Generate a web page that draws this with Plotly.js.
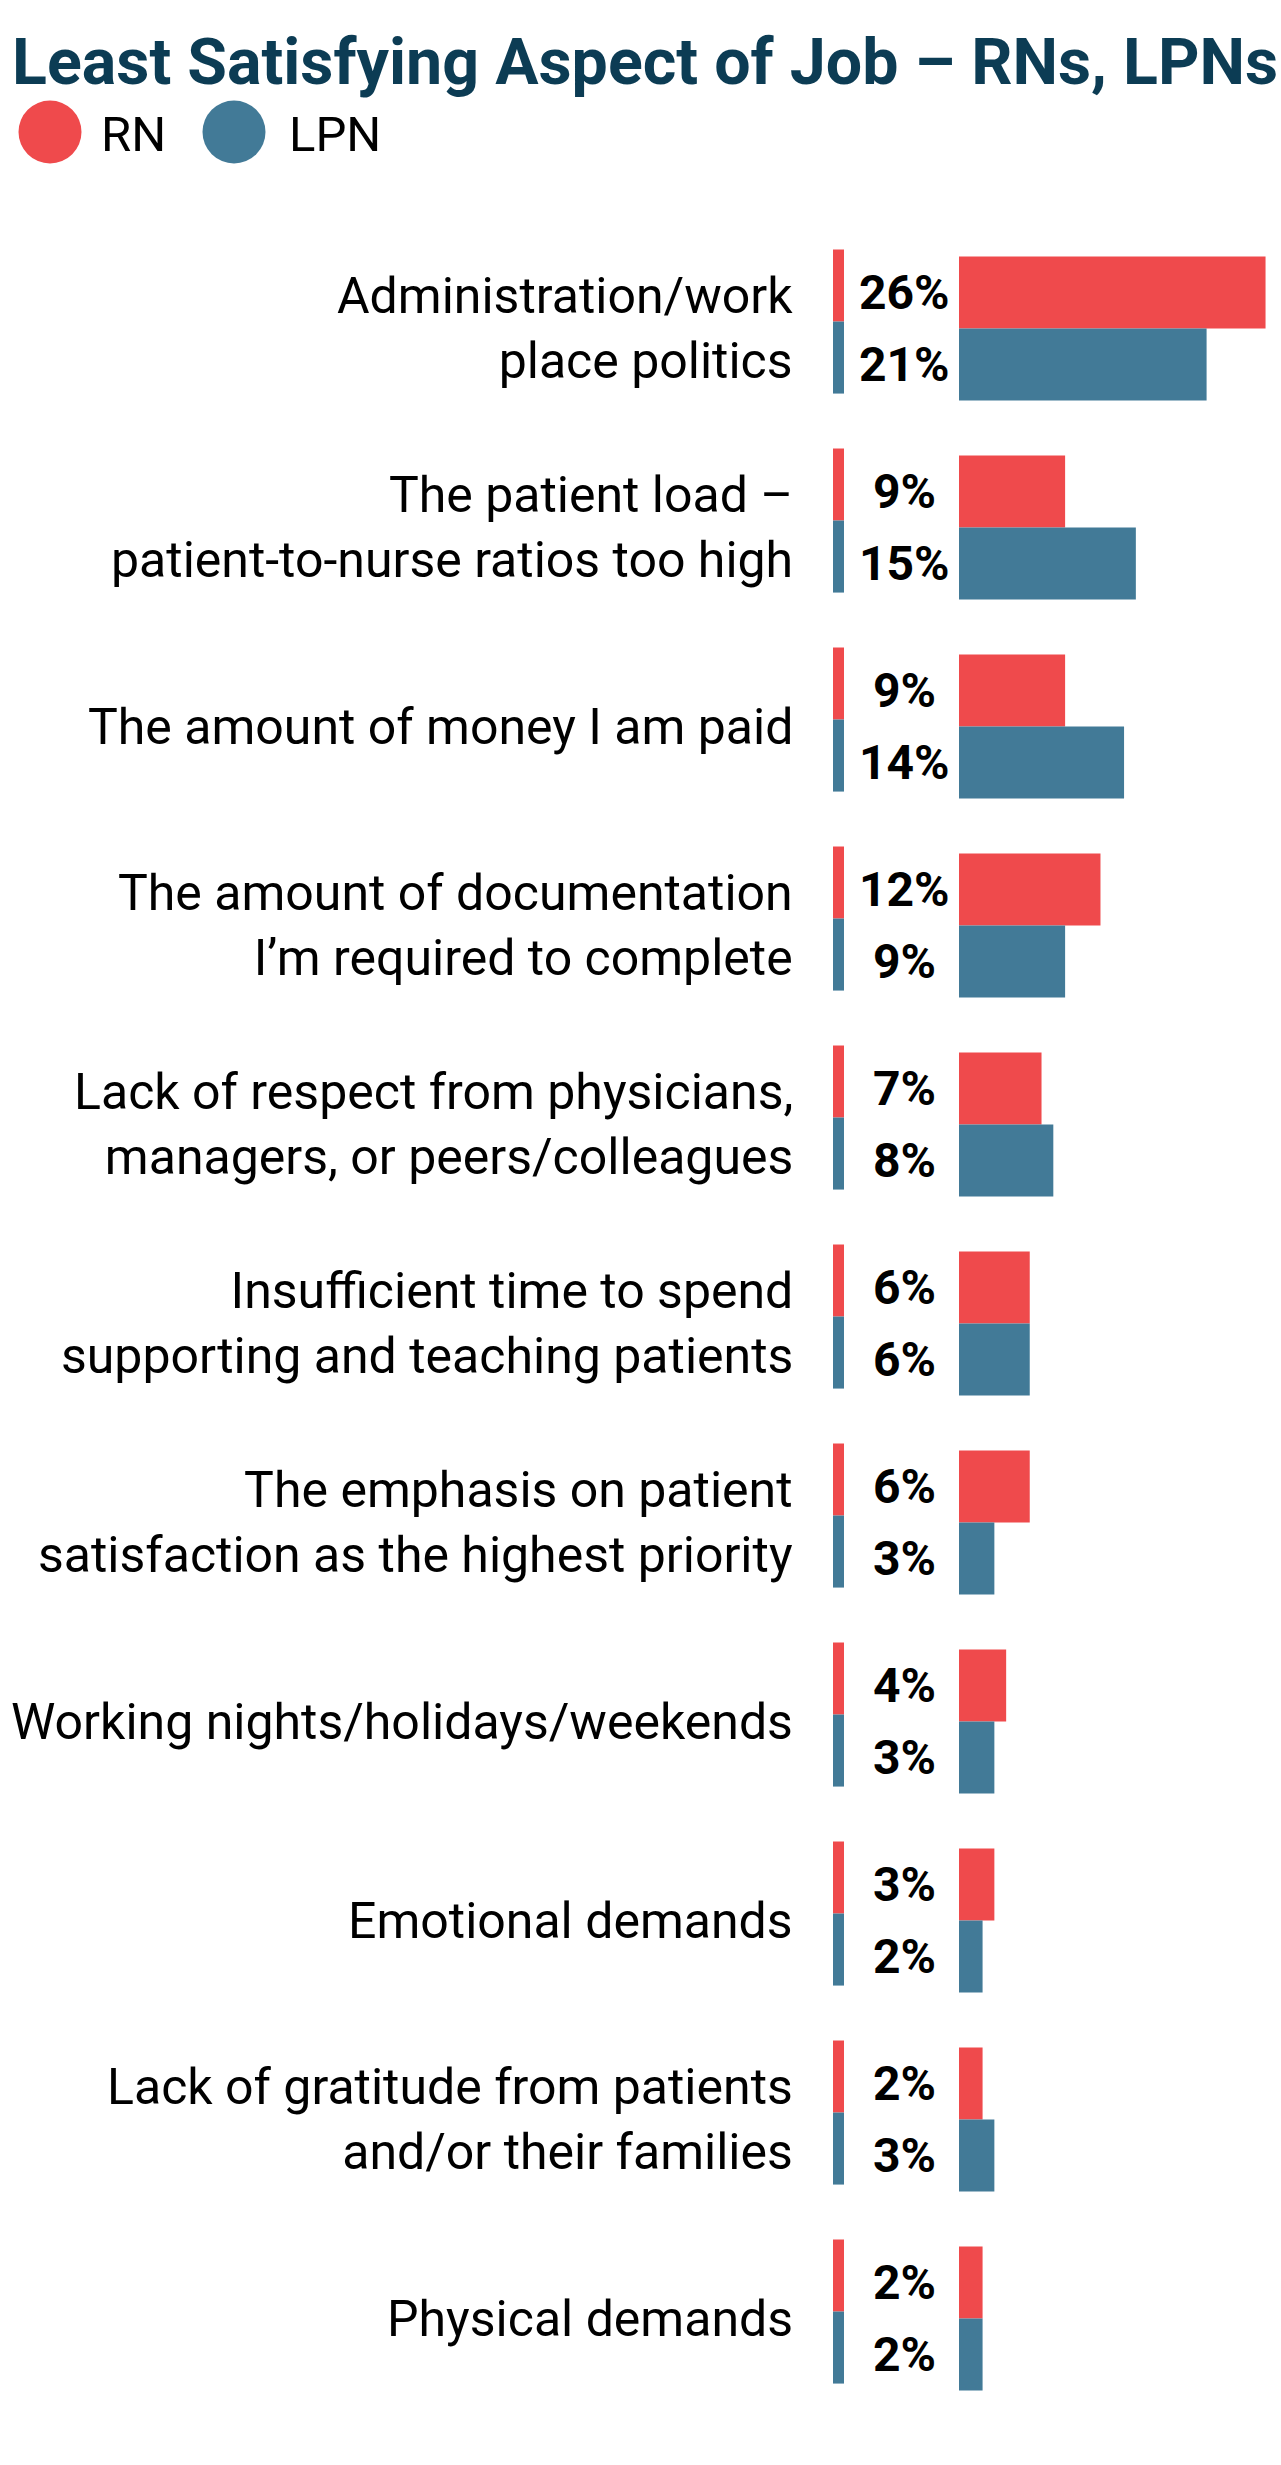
<!DOCTYPE html>
<html>
<head>
<meta charset="utf-8">
<script src="https://cdn.plot.ly/plotly-3.0.1.min.js"></script>
<style>
html,body{margin:0;padding:0;background:#fff;}
#chart{width:1281px;height:2465px;}
</style>
</head>
<body>
<div id="chart"></div>
<script>
// ---- data ----
const categories = [
  "Administration/work<br>place politics",
  "The patient load –<br>patient-to-nurse ratios too high",
  "The amount of money I am paid",
  "The amount of documentation<br>I’m required to complete",
  "Lack of respect from physicians,<br>managers, or peers/colleagues",
  "Insufficient time to spend<br>supporting and teaching patients",
  "The emphasis on patient<br>satisfaction as the highest priority",
  "Working nights/holidays/weekends",
  "Emotional demands",
  "Lack of gratitude from patients<br>and/or their families",
  "Physical demands"
];
const rnValues  = [26, 9, 9, 12, 7, 6, 6, 4, 3, 2, 2];
const lpnValues = [21, 15, 14, 9, 8, 6, 3, 3, 2, 3, 2];
const seriesNames = ["RN", "LPN"];
const titleText = "Least Satisfying Aspect of Job – RNs, LPNs";

// ---- styling / layout ----
const W = 1281, H = 2465;
const M = {l: 959, r: 0, t: 229, b: 47};
const PW = W - M.l - M.r, PH = H - M.t - M.b;
const RED = "#EF4A4C", BLUE = "#427A97", TITLE = "#0C3C54";
const px2x = p => (p - M.l) / PW;
const py2y = p => 1 - (p - M.t) / PH;

const idx = categories.map((c, i) => i);
const bargap = 0.276;
const half = (1 - bargap) / 2;        // each bar thickness in category units

const traces = [
  {type: "bar", orientation: "h", name: seriesNames[0], y: idx, x: rnValues,
   marker: {color: RED}, hoverinfo: "skip"},
  {type: "bar", orientation: "h", name: seriesNames[1], y: idx, x: lpnValues,
   marker: {color: BLUE}, hoverinfo: "skip"}
];

const annotations = [];
const shapes = [];
const labelRight = px2x(795);
const valueCenter = px2x(904);
const stripX0 = px2x(833), stripX1 = px2x(844);
const lift = 0.035;

categories.forEach((c, i) => {
  annotations.push({xref: "paper", yref: "y", x: labelRight, y: i, text: c,
    showarrow: false, xanchor: "right", yanchor: "middle", align: "right",
    font: {family: "Roboto, 'Open Sans', sans-serif", size: 50, color: "#000"}});
  annotations.push({xref: "paper", yref: "y", x: valueCenter, y: i - half / 2,
    text: rnValues[i] + "%", showarrow: false, xanchor: "center", yanchor: "middle",
    font: {family: "Roboto, sans-serif", size: 48, color: "#000", weight: 700}});
  annotations.push({xref: "paper", yref: "y", x: valueCenter, y: i + half / 2,
    text: lpnValues[i] + "%", showarrow: false, xanchor: "center", yanchor: "middle",
    font: {family: "Roboto, sans-serif", size: 48, color: "#000", weight: 700}});
  shapes.push({type: "rect", xref: "paper", yref: "y", x0: stripX0, x1: stripX1,
    y0: i - half - lift, y1: i - lift, fillcolor: RED, line: {width: 0}});
  shapes.push({type: "rect", xref: "paper", yref: "y", x0: stripX0, x1: stripX1,
    y0: i - lift, y1: i + half - lift, fillcolor: BLUE, line: {width: 0}});
});

// legend (circles + labels)
const legendItems = [
  {cx: 50, text: seriesNames[0], tx: 99, color: RED},
  {cx: 234, text: seriesNames[1], tx: 287, color: BLUE}
];
const legendCy = 132, r = 31.5;
legendItems.forEach(it => {
  shapes.push({type: "circle", xref: "paper", yref: "paper",
    x0: px2x(it.cx - r), x1: px2x(it.cx + r), y0: py2y(legendCy + r), y1: py2y(legendCy - r),
    fillcolor: it.color, line: {width: 0}});
  annotations.push({xref: "paper", yref: "paper", x: px2x(it.tx), y: py2y(legendCy + 2),
    text: it.text, showarrow: false, xanchor: "left", yanchor: "middle",
    font: {family: "Roboto, sans-serif", size: 49, color: "#000"}});
});

const layout = {
  width: W, height: H,
  margin: M,
  paper_bgcolor: "#fff", plot_bgcolor: "#fff",
  showlegend: false,
  barmode: "group", bargap: bargap, bargroupgap: 0,
  title: {text: "<b>" + titleText + "</b>", xref: "container", yref: "container",
    x: 12 / W, xanchor: "left", y: 1 - 39 / H, yanchor: "top",
    font: {family: "Roboto, sans-serif", size: 64.5, color: TITLE}},
  xaxis: {range: [0, PW / 11.79], visible: false, fixedrange: true},
  yaxis: {type: "linear", range: [categories.length - 0.5, -0.5], visible: false, fixedrange: true},
  annotations: annotations,
  shapes: shapes
};

Plotly.newPlot("chart", traces, layout, {staticPlot: true, displayModeBar: false});
</script>
</body>
</html>
